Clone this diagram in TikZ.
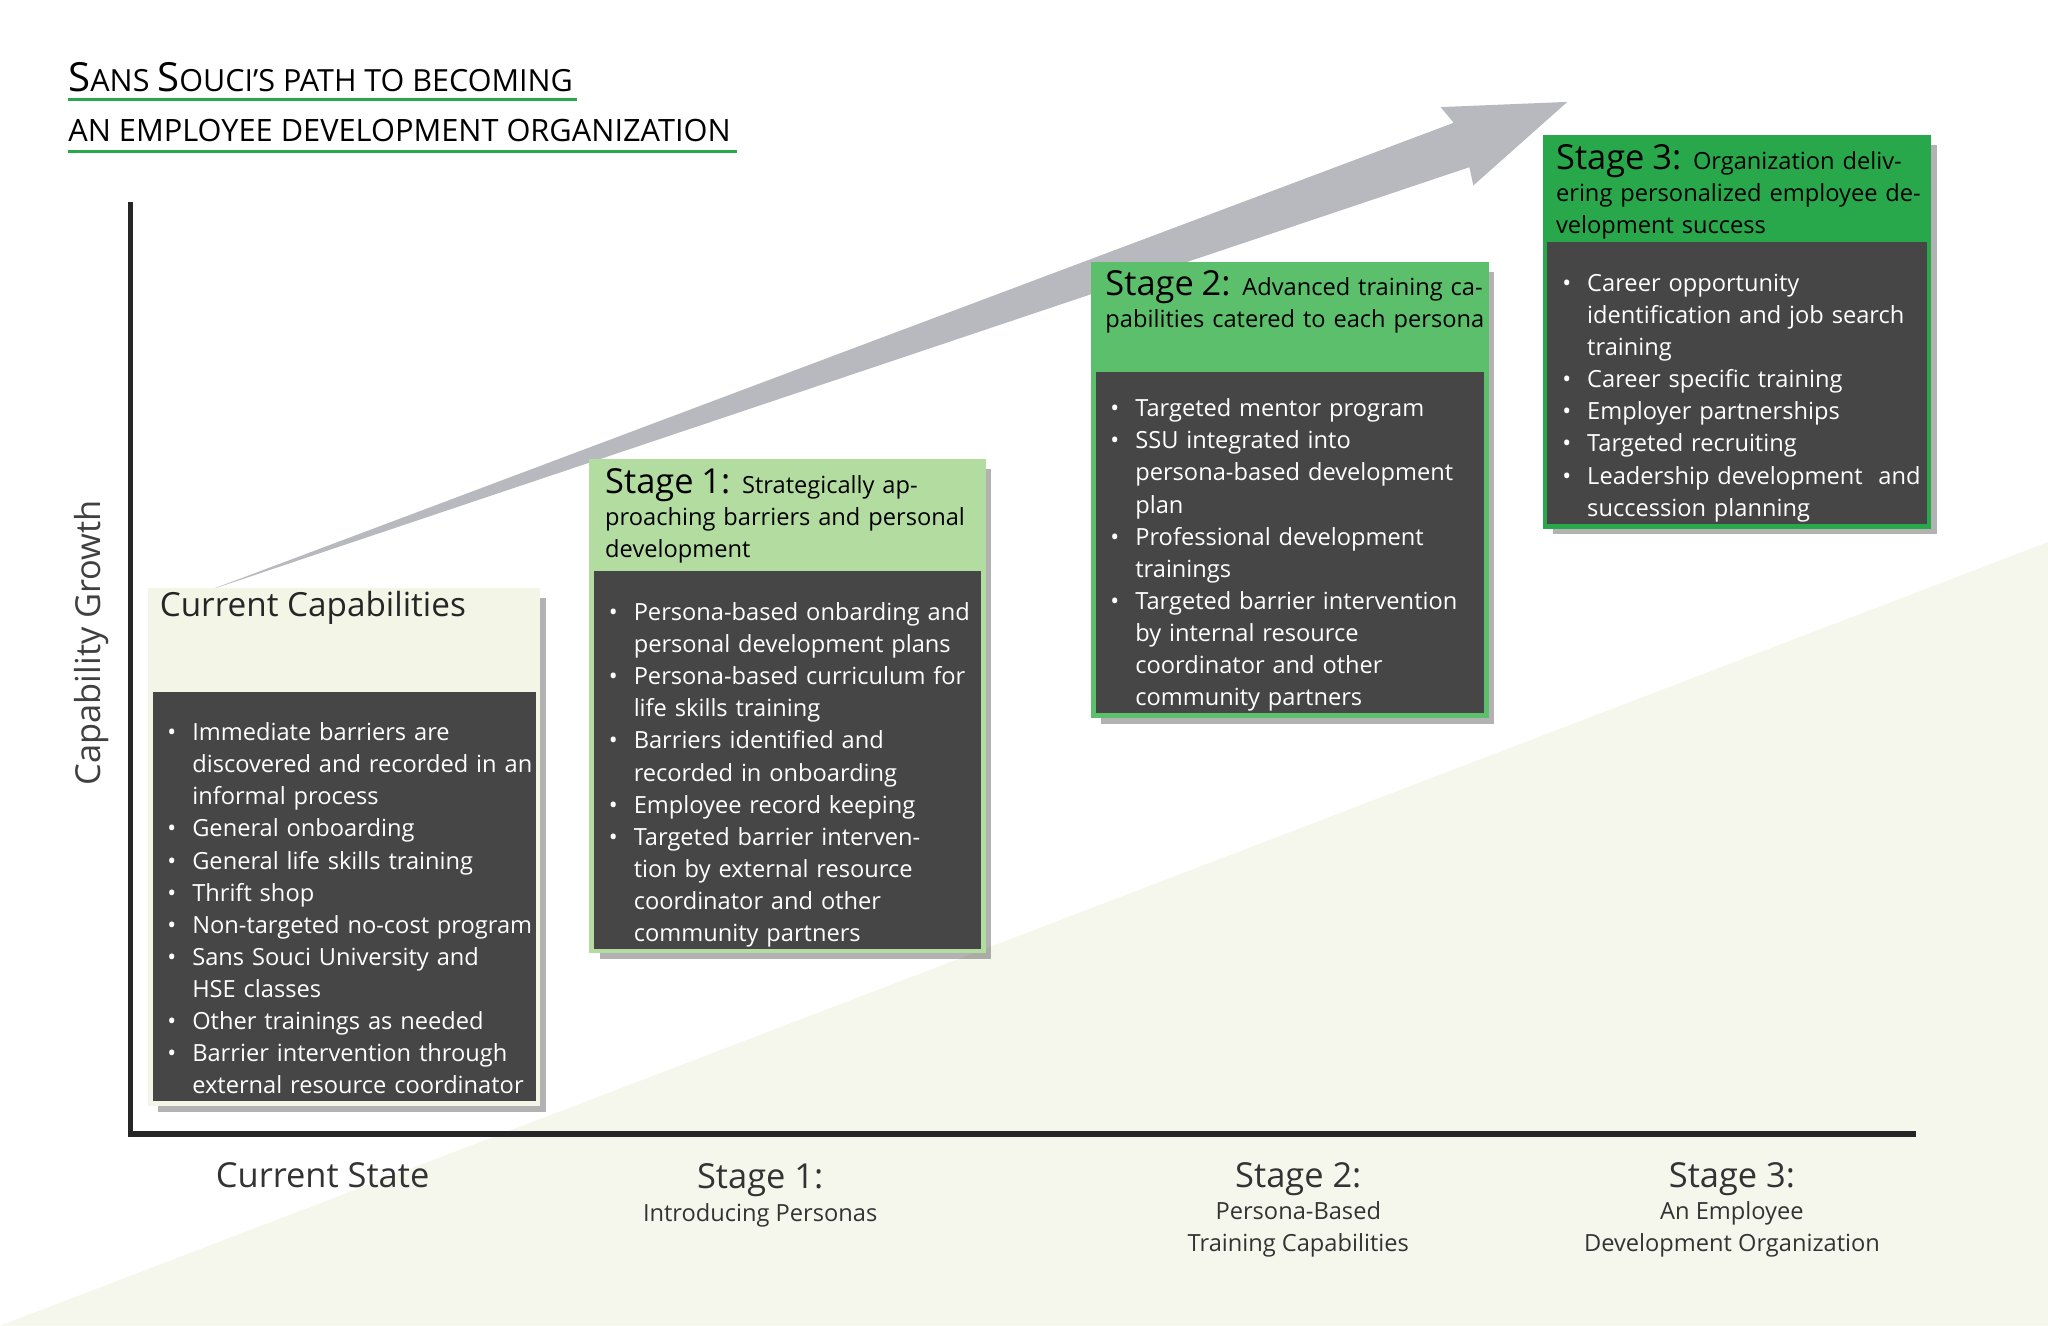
\documentclass[tikz,border=0pt]{standalone}
\usepackage{fontspec}
\setmainfont{Open Sans}
\usepackage{enumitem}
\setlist[itemize]{leftmargin=13pt,labelsep=7pt,nosep,label=\textbullet}
\definecolor{dark}{HTML}{464646}
\definecolor{cream}{HTML}{F3F5E6}
\definecolor{gA}{HTML}{B3DCA1}
\definecolor{gB}{HTML}{5CBF6C}
\definecolor{gC}{HTML}{28A84A}
\definecolor{arr}{HTML}{B7B9BE}
\definecolor{bgc}{HTML}{F6F7EC}
\newcommand{\nohy}{\hyphenpenalty=10000\relax}
\tikzset{
 body/.style={anchor=north west,text=white,inner sep=4pt,align=left,font=\fontsize{10.3}{14}\selectfont},
 head/.style={anchor=north west,inner sep=4pt,align=left,font=\fontsize{10.3}{14}\selectfont},
 shadow/.style={fill=black,opacity=0.3},
 lab/.style={font=\fontsize{10.3}{14}\selectfont,align=center,anchor=north}
}
\newcommand{\bs}[1]{{\fontsize{15}{14}\selectfont #1}}
\begin{document}
\begin{tikzpicture}[x=0.02cm,y=-0.02cm]
\useasboundingbox (0,0) rectangle (1568,1015);
\fill[white] (0,0) rectangle (1568,1015);
\fill[bgc] (0,1015) -- (1568,415) -- (1568,1015) -- cycle;
% title
\node[anchor=base west,inner sep=0] (t1) at (52,70) {\fontsize{17.5}{17}\selectfont S\fontsize{13.3}{13}\selectfont ANS \fontsize{17.5}{17}\selectfont S\fontsize{13.3}{13}\selectfont OUCI'S PATH TO BECOMING};
\node[anchor=base west,inner sep=0] (t2) at (52,108) {\fontsize{13.4}{13}\selectfont AN EMPLOYEE DEVELOPMENT ORGANIZATION};
\draw[gC,line width=1.2pt] (52,76) -- (442,76);
\draw[gC,line width=1.2pt] (52,116) -- (564,116);
% arrow
\fill[arr] (160,452) -- (1125,128) -- (1128,142) -- (1200,78) -- (1103,82) -- (1113,94) -- cycle;
% axes
\coordinate (o) at (100,868);
\coordinate (yt) at (100,155);
\coordinate (xr) at (1467,868);
\draw[line width=2.5pt,black!85] (yt) -- (o) -- (xr);
\node[rotate=90,font=\fontsize{15}{15}\selectfont,text=black!75] (yl) at (70,492) {Capability Growth};
% shadows
\fill[shadow] (121,458) rectangle (418,851);
\fill[shadow] (459,359) rectangle (759,734);
\fill[shadow] (843,208) rectangle (1144,554);
\fill[shadow] (1189,111) rectangle (1483,409);
% current
\fill[cream] (115,452) rectangle (412,530);
\fill[dark] (115,530) rectangle (412,845);
\draw[cream,line width=2pt] (115,452) rectangle (412,845);
\node[anchor=north west,inner sep=0,font=\fontsize{14.5}{15}\selectfont,text=black!85] (c0) at (122,452) {Current Capabilities};
\node[body,text width=5.7cm] (c1) at (117,535) {\nohy\begin{itemize}
\item Immediate barriers are discovered and recorded in an informal process
\item General onboarding
\item General life skills training
\item Thrift shop
\item Non-targeted no-cost program
\item Sans Souci University and \ HSE classes
\item Other trainings as needed
\item Barrier intervention through external resource coordinator
\end{itemize}};
% stage 1
\fill[gA] (453,353) rectangle (753,437);
\fill[dark] (453,437) rectangle (753,728);
\draw[gA,line width=2pt] (453,353) rectangle (753,728);
\node[head,text width=5.85cm] (s1h) at (456,351) {\nohy\bs{Stage 1:} Strategically approaching barriers and personal development};
\node[body,text width=5.75cm] (s1) at (455,443) {\nohy\begin{itemize}
\item Persona-based onbarding and personal development plans
\item Persona-based curriculum for life skills training
\item Barriers identified and recorded in onboarding
\item Employee record keeping
\item Targeted barrier interven-\\tion by external resource coordinator and other community partners
\end{itemize}};
% stage 2
\fill[gB] (837,202) rectangle (1138,285);
\fill[dark] (837,285) rectangle (1138,548);
\draw[gB,line width=2pt] (837,202) rectangle (1138,548);
\node[head,text width=5.85cm] (s2h) at (839,200) {\nohy\bs{Stage 2:} Advanced training capabilities catered to each persona};
\node[body,text width=5.75cm] (s2) at (839,287) {\nohy\begin{itemize}
\item Targeted mentor program
\item SSU integrated into persona-based development plan
\item Professional development trainings
\item Targeted barrier intervention by internal resource coordinator and other community partners
\end{itemize}};
% stage 3
\fill[gC] (1183,105) rectangle (1477,185);
\fill[dark] (1183,185) rectangle (1477,403);
\draw[gC,line width=2pt] (1183,105) rectangle (1477,403);
\node[head,text width=5.7cm] (s3h) at (1184,103) {\nohy\bs{Stage 3:} Organization delivering personalized employee development success};
\node[body,text width=5.6cm] (s3) at (1185,191) {\nohy\begin{itemize}
\item Career opportunity identification and job search training
\item Career specific training
\item Employer partnerships
\item Targeted recruiting
\item Leadership development \ and succession planning
\end{itemize}};
% bottom labels
\node[lab,font=\fontsize{15}{15}\selectfont,text=black!80] (l0) at (247,884) {Current State};
\node[lab,text=black!80] (l1) at (582,885) {{\fontsize{15}{18}\selectfont Stage 1:}\\Introducing Personas};
\node[lab,text=black!80] (l2) at (994,884) {{\fontsize{15}{18}\selectfont Stage 2:}\\Persona-Based\\Training Capabilities};
\node[lab,text=black!80] (l3) at (1326,884) {{\fontsize{15}{18}\selectfont Stage 3:}\\An Employee\\Development Organization};
\end{tikzpicture}
\end{document}
